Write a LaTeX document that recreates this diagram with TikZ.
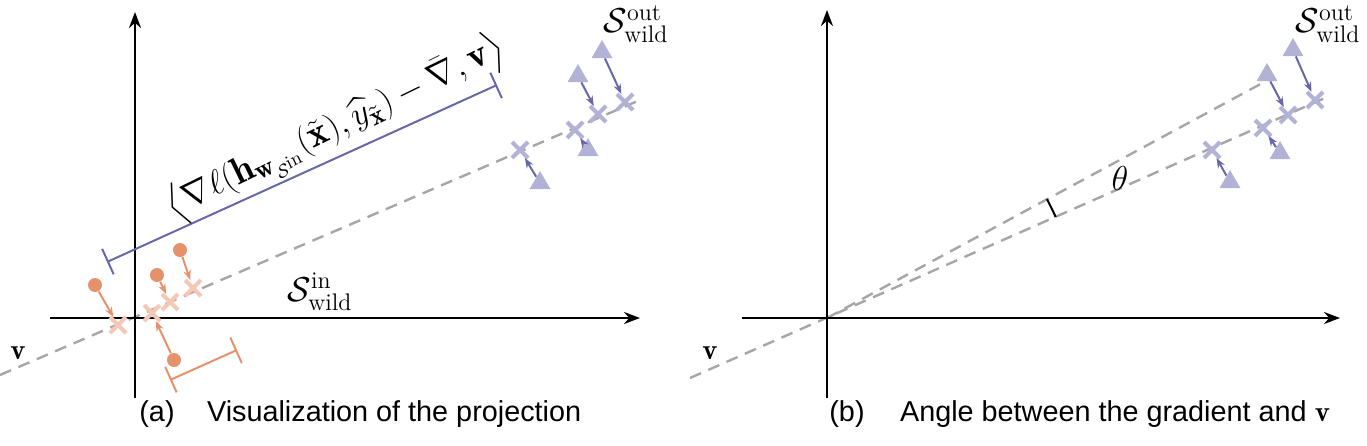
\documentclass[tikz,border=0pt]{standalone}
\usepackage{amsmath,amssymb}
\usepackage{fontspec}
\newfontfamily\capfont{Liberation Sans}
\usetikzlibrary{arrows.meta,shapes.geometric,shapes.misc}
\definecolor{inorange}{RGB}{229,146,108}
\definecolor{inlight}{RGB}{245,200,182}
\definecolor{outblue}{RGB}{104,104,168}
\definecolor{outlight}{RGB}{178,178,214}
\tikzset{%
  axis/.style={draw, line width=1.2pt, -{Stealth[length=8pt]}},
  vline/.style={draw, gray!70, line width=1.2pt, dash pattern=on 6pt off 4pt},
  cross/.style={cross out, draw, line width=2pt, minimum size=6pt, inner sep=0pt},
  indot/.style={circle, fill=inorange, minimum size=7pt, inner sep=0pt},
  outtri/.style={regular polygon, regular polygon sides=3, fill=outlight, minimum size=12pt, inner sep=0pt},
  inarrow/.style={draw, inorange, line width=1pt, -{Stealth[length=5pt]}},
  outarrow/.style={draw, outblue, line width=1pt, -{Stealth[length=5pt]}},
  bar/.style={draw, line width=1pt, {|[width=14pt]}-{|[width=14pt]}},
  caption/.style={font=\capfont\Large}}

\begin{document}
\begin{tikzpicture}[x=0.5pt, y=-0.5pt]
    \useasboundingbox (0,0) rectangle (1367,445);

    % (a) projection
    \coordinate (oa) at (135,318);
    \coordinate (va) at (0,375);
    \coordinate (wa) at (640,100);
    \path [vline] (va) -- (wa);
    \path [axis] (50,318) -- (640,318);
    \path [axis] (135,398) -- (135,12);
    \node (v1) at (18,353) {\Large$\mathbf{v}$};

    \node [cross, inlight] (c1) at (118,325) {};
    \node [cross, inlight] (c2) at (152,313) {};
    \node [cross, inlight] (c3) at (170,302) {};
    \node [cross, inlight] (c4) at (193,288) {};
    \node [indot] (p1) at (95,285) {};
    \node [indot] (p2) at (174,360) {};
    \node [indot] (p3) at (157,275) {};
    \node [indot] (p4) at (180,250) {};
    \path [inarrow] (p1) -- (c1);
    \path [inarrow] (p2) -- (c2);
    \path [inarrow] (p3) -- (c3);
    \path [inarrow] (p4) -- (c4);
    \node (sin) at (320,292) {\LARGE$\mathcal{S}_{\text{wild}}^{\text{in}}$};

    \coordinate (ib1) at (170,380);
    \coordinate (ib2) at (237,350);
    \path [bar, inorange] (ib1) -- (ib2);

    \node [cross, outlight] (d1) at (520,150) {};
    \node [cross, outlight] (d2) at (575,130) {};
    \node [cross, outlight] (d3) at (598,114) {};
    \node [cross, outlight] (d4) at (625,102) {};
    \node [outtri] (t1) at (540,183) {};
    \node [outtri] (t2) at (588,150) {};
    \node [outtri] (t3) at (578,76) {};
    \node [outtri] (t4) at (602,52) {};
    \path [outarrow] (t1) -- (d1);
    \path [outarrow] (t2) -- (d2);
    \path [outarrow] (t3) -- (d3);
    \path [outarrow] (t4) -- (d4);
    \node (souta) at (636,24) {\LARGE$\mathcal{S}_{\text{wild}}^{\text{out}}$};

    \coordinate (ob1) at (107,262);
    \coordinate (ob2) at (497,85);
    \path [bar, outblue] (ob1) -- (ob2);
    \node [rotate=26] (grad) at (336,128)
      {\fontsize{19}{22}\selectfont$\big\langle \nabla \ell(\mathbf{h}_{\mathbf{w}_{\mathcal{S}^{\text{in}}}}(\tilde{\mathbf{x}}), \widehat{y}_{\tilde{\mathbf{x}}}) - \bar{\nabla}, \mathbf{v}\big\rangle$};

    \node [caption] (laba) at (157,414) {(a)};
    \node [caption, anchor=west] (capa) at (200,414) {Visualization of the projection};

    % (b) angle
    \coordinate (ob) at (827,318);
    \coordinate (vb) at (690,378);
    \coordinate (wb) at (1325,98);
    \coordinate (ub) at (1268,80);
    \path [vline] (vb) -- (wb);
    \path [vline] (ob) -- (ub);
    \path [axis] (742,318) -- (1340,318);
    \path [axis] (827,398) -- (827,10);
    \node (v2) at (710,353) {\Large$\mathbf{v}$};
    \draw [line width=1pt] (827,318) ++(-23.8:250) arc (-23.8:-28.4:250);
    \node (theta) at (1120,178) {\LARGE$\theta$};

    \node [cross, outlight] (e1) at (1212,150) {};
    \node [cross, outlight] (e2) at (1263,128) {};
    \node [cross, outlight] (e3) at (1288,115) {};
    \node [cross, outlight] (e4) at (1315,100) {};
    \node [outtri] (s1) at (1230,182) {};
    \node [outtri] (s2) at (1280,153) {};
    \node [outtri] (s3) at (1267,75) {};
    \node [outtri] (s4) at (1293,50) {};
    \path [outarrow] (s1) -- (e1);
    \path [outarrow] (s2) -- (e2);
    \path [outarrow] (s3) -- (e3);
    \path [outarrow] (s4) -- (e4);
    \node (soutb) at (1328,24) {\LARGE$\mathcal{S}_{\text{wild}}^{\text{out}}$};

    \node [caption] (labb) at (847,414) {(b)};
    \node [caption, anchor=west] (capb) at (893,414) {Angle between the gradient and $\mathbf{v}$};
\end{tikzpicture}
\end{document}
